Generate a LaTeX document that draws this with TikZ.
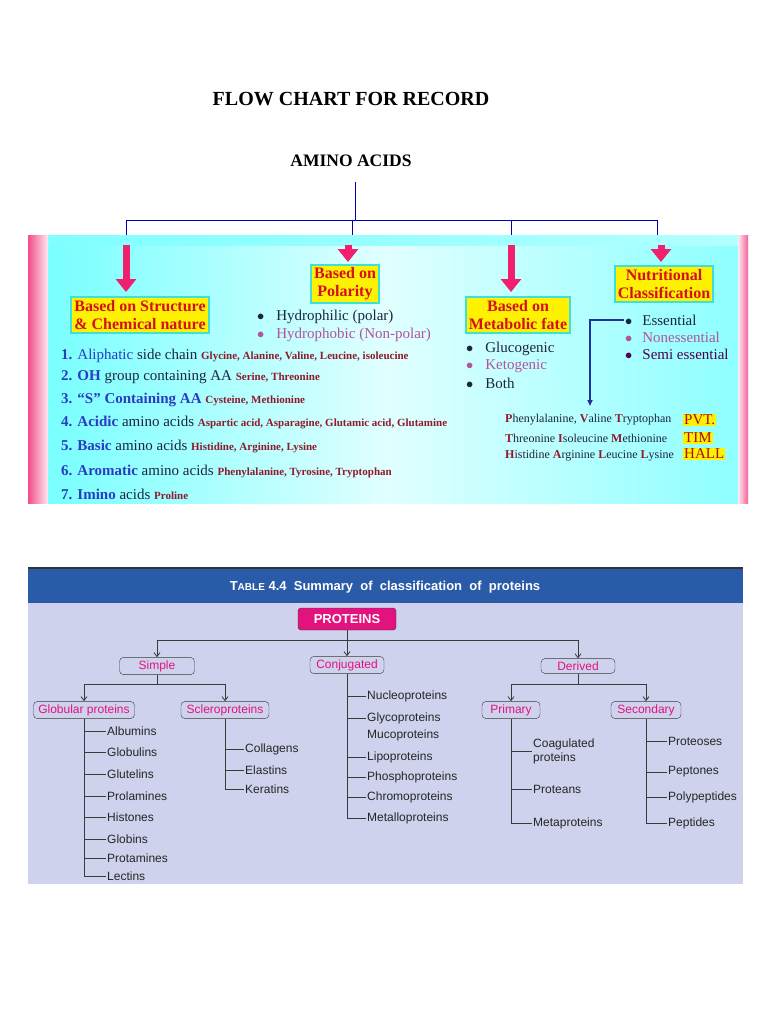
\documentclass[tikz,border=0pt]{standalone}
\usepackage{fontspec}
\setmainfont{Liberation Serif}
\setsansfont{Liberation Sans}
\usetikzlibrary{arrows.meta, positioning}
\definecolor{deeppink}{HTML}{F0206E}
\definecolor{boxcyan}{HTML}{3FE0D8}
\definecolor{boxyellow}{HTML}{FFF200}
\definecolor{boxred}{HTML}{D4101E}
\definecolor{numblue}{HTML}{2B3BC4}
\definecolor{namered}{HTML}{8E1B2C}
\definecolor{softpurple}{HTML}{B2539E}
\definecolor{inkdark}{HTML}{1C2540}
\definecolor{lavender}{HTML}{CED2EC}
\definecolor{barblue}{HTML}{2A5BA8}
\definecolor{protpink}{HTML}{E2137F}
\definecolor{treegray}{HTML}{3A3A3A}
\tikzset{
  pinkarrow/.style={draw=deeppink, line width=7pt, -{Triangle[length=13pt,width=20pt]}},
  yellowbox/.style={draw=boxcyan, line width=2pt, fill=boxyellow, text=boxred,
    font=\fontsize{16}{18}\selectfont\bfseries, align=center, inner sep=3pt},
  bluelink/.style={draw=blue!70!black, line width=0.6pt},
  classbox/.style={draw=treegray, rounded corners=4pt, fill=lavender, text=protpink,
    font=\sffamily\fontsize{12}{14}\selectfont, inner sep=3pt},
  treeline/.style={draw=treegray, line width=0.8pt},
  treearrow/.style={treeline, -{Straight Barb[length=4pt,width=6pt]}},
  leaf/.style={anchor=west, font=\sffamily\fontsize{12}{14}\selectfont, text=black!85, inner sep=1pt},
  listline/.style={anchor=west, font=\fontsize{15}{17}\selectfont, text=inkdark, inner sep=1pt},
}
\newcommand{\aaname}[1]{{\fontsize{11}{13}\selectfont\bfseries\color{namered}#1}}
\newcommand{\lead}[1]{{\bfseries\color{namered}#1}}
\begin{document}
\begin{tikzpicture}[x=1pt, y=-1pt]
  \useasboundingbox[fill=white] (0,0) rectangle (768,1024);

  % headings
  \node[font=\fontsize{20}{22}\selectfont\bfseries] (title) at (351,99) {FLOW CHART FOR RECORD};
  \node[font=\fontsize{17.5}{19}\selectfont\bfseries, inner sep=2pt] (amino) at (351,161) {AMINO ACIDS};

  % amino acid panel
  \fill[left color=cyan!55!white, right color=cyan!45!white, middle color=cyan!12!white] (28,235) rectangle (748,503);
  \fill[left color=cyan!50!white, right color=cyan!30!white] (48,235) rectangle (738,245);
  \fill[left color=deeppink!80!white, right color=deeppink!10!white] (28,235) rectangle (48,503);
  \fill[left color=deeppink!10!white, right color=deeppink!70!white] (738,235) rectangle (748,503);

  \coordinate (hub) at (355,220);
  \draw[bluelink] (hub |- 0,182) -- (hub);
  \draw[bluelink] (126,220) -- (657,220);
  \foreach \x in {126,352,511,657}
    \draw[bluelink] (\x,220) -- (\x,235);

  \node[yellowbox] (structure) at (140,315) {Based on Structure\\\& Chemical nature};
  \node[yellowbox] (polarity) at (345,284) {Based on\\Polarity};
  \node[yellowbox] (metabolic) at (518,315) {Based on\\Metabolic fate};
  \node[yellowbox] (nutrition) at (664,284) {Nutritional\\Classification};

  \draw[pinkarrow] (126,245) -- (126,292);
  \draw[pinkarrow] (348,245) -- (348,262);
  \draw[pinkarrow] (511,245) -- (511,292);
  \draw[pinkarrow] (661,245) -- (661,262);

  % polarity
  \node[listline] (hydrophilic) at (256,317) {$\bullet$\hspace{12pt}Hydrophilic (polar)};
  \node[listline, text=softpurple] (hydrophobic) at (256,335) {$\bullet$\hspace{12pt}Hydrophobic (Non-polar)};

  % structure list
  \node[listline] (l1) at (60,356) {\textcolor{numblue}{\bfseries 1.} \textcolor{numblue}{Aliphatic} side chain \aaname{Glycine, Alanine, Valine, Leucine, isoleucine}};
  \node[listline] (l2) at (60,377) {\textcolor{numblue}{\bfseries 2. OH} group containing AA \aaname{Serine, Threonine}};
  \node[listline] (l3) at (60,400) {\textcolor{numblue}{\bfseries 3. ``S'' Containing AA} \aaname{Cysteine, Methionine}};
  \node[listline] (l4) at (60,423) {\textcolor{numblue}{\bfseries 4. Acidic} amino acids \aaname{Aspartic acid, Asparagine, Glutamic acid, Glutamine}};
  \node[listline] (l5) at (60,447) {\textcolor{numblue}{\bfseries 5. Basic} amino acids \aaname{Histidine, Arginine, Lysine}};
  \node[listline] (l6) at (60,471) {\textcolor{numblue}{\bfseries 6. Aromatic} amino acids \aaname{Phenylalanine, Tyrosine, Tryptophan}};
  \node[listline] (l7) at (60,494) {\textcolor{numblue}{\bfseries 7. Imino} acids \aaname{Proline}};

  % metabolic fate
  \node[listline] (glucogenic) at (465,349) {$\bullet$\hspace{12pt}Glucogenic};
  \node[listline, text=softpurple] (ketogenic) at (465,366) {$\bullet$\hspace{12pt}Ketogenic};
  \node[listline] (both) at (465,383) {$\bullet$\hspace{12pt}Both};

  % nutritional
  \node[listline] (essential) at (624,320) {$\bullet$\hspace{10pt}Essential};
  \node[listline, text=softpurple] (nonessential) at (624,337) {$\bullet$\hspace{10pt}Nonessential};
  \node[listline, text=violet!60!black] (semi) at (624,354) {$\bullet$\hspace{10pt}Semi essential};

  \node[listline, font=\fontsize{12}{14}\selectfont] (pvt) at (504,420) {\lead{P}henylalanine, \lead{V}aline \lead{T}ryptophan};
  \node[listline, font=\fontsize{12}{14}\selectfont] (tim) at (504,438) {\lead{T}hreonine \lead{I}soleucine \lead{M}ethionine};
  \node[listline, font=\fontsize{12}{14}\selectfont] (hall) at (504,456) {\lead{H}istidine \lead{A}rginine \lead{L}eucine \lead{L}ysine};
  \foreach \word/\y in {PVT./420, TIM/438, HALL/454}
    \node[anchor=west, fill=boxyellow, text=boxred!80!black, inner sep=1pt, font=\fontsize{15}{16}\selectfont] at (683,\y) {\word};

  \coordinate (bend) at (590,320);
  \draw[draw=numblue!80!black, line width=1.5pt, -{Triangle[length=6pt,width=5pt]}] (essential.west) -- (bend) -- (bend |- 0,406);

  % protein panel
  \fill[lavender] (28,567) rectangle (743,884);
  \fill[barblue] (28,569) rectangle (743,603);
  \draw[black!80, line width=1.5pt] (28,568) -- (743,568);
  \node[text=white, font=\sffamily\bfseries\fontsize{13}{15}\selectfont] (tabletitle) at (385,587)
    {T{\fontsize{10}{12}\selectfont ABLE} 4.4\ \ Summary\ \ of\ \ classification\ \ of\ \ proteins};

  \node[draw=treegray, rounded corners=3pt, fill=protpink, text=white, font=\sffamily\bfseries\fontsize{13}{15}\selectfont,
    minimum width=98pt, minimum height=22pt] (proteins) at (347,619) {PROTEINS};

  \node[classbox, minimum width=75pt] (simple) at (157,666) {Simple};
  \node[classbox, minimum width=74pt] (conjugated) at (347,665) {Conjugated};
  \node[classbox, minimum width=74pt] (derived) at (578,666) {Derived};
  \draw[treeline] (proteins.south) -- (proteins.south |- 0,640);
  \draw[treeline] (simple.north |- 0,640) -- (derived.north |- 0,640);
  \foreach \n in {simple, conjugated, derived}
    \draw[treearrow] (\n.north |- 0,640) -- (\n.north);

  \node[classbox, minimum width=101pt] (globular) at (84,710) {Globular proteins};
  \node[classbox, minimum width=88pt] (sclero) at (225,710) {Scleroproteins};
  \draw[treeline] (simple.south) -- (simple.south |- 0,684);
  \draw[treeline] (globular.north |- 0,684) -- (sclero.north |- 0,684);
  \foreach \n in {globular, sclero}
    \draw[treearrow] (\n.north |- 0,684) -- (\n.north);

  \node[classbox, minimum width=58pt] (primary) at (511,710) {Primary};
  \node[classbox, minimum width=70pt] (secondary) at (646,710) {Secondary};
  \draw[treeline] (derived.south) -- (derived.south |- 0,684);
  \draw[treeline] (primary.north |- 0,684) -- (secondary.north |- 0,684);
  \foreach \n in {primary, secondary}
    \draw[treearrow] (\n.north |- 0,684) -- (\n.north);

  % leaves
  \foreach \name/\y [count=\i] in {Albumins/731, Globulins/752, Glutelins/774, Prolamines/796,
      Histones/817, Globins/839, Protamines/858, Lectins/876} {
    \node[leaf] (glob\i) at (106,\y) {\name};
    \draw[treeline] (globular.south |- glob\i.west) -- (glob\i.west);
  }
  \draw[treeline] (globular.south) -- (globular.south |- glob8.west);

  \foreach \name/\y [count=\i] in {Collagens/749, Elastins/770, Keratins/789} {
    \node[leaf] (scl\i) at (244,\y) {\name};
    \draw[treeline] (sclero.south |- scl\i.west) -- (scl\i.west);
  }
  \draw[treeline] (sclero.south) -- (sclero.south |- scl3.west);

  \foreach \name/\y [count=\i] in {Nucleoproteins/696, Glycoproteins/718, Lipoproteins/757,
      Phosphoproteins/777, Chromoproteins/797, Metalloproteins/818} {
    \node[leaf] (conj\i) at (366,\y) {\name};
    \draw[treeline] (conjugated.south |- conj\i.west) -- (conj\i.west);
  }
  \node[leaf] (muco) at (366,735) {Mucoproteins};
  \draw[treeline] (conjugated.south) -- (conjugated.south |- conj6.west);

  \node[leaf, align=left] (coag) at (532,751) {Coagulated\\proteins};
  \node[leaf] (proteans) at (532,789) {Proteans};
  \node[leaf] (meta) at (532,823) {Metaproteins};
  \foreach \n in {coag, proteans, meta}
    \draw[treeline] (primary.south |- \n.west) -- (\n.west);
  \draw[treeline] (primary.south) -- (primary.south |- meta.west);

  \foreach \name/\y [count=\i] in {Proteoses/741, Peptones/772, Polypeptides/797, Peptides/823} {
    \node[leaf] (sec\i) at (667,\y) {\name};
    \draw[treeline] (secondary.south |- sec\i.west) -- (sec\i.west);
  }
  \draw[treeline] (secondary.south) -- (secondary.south |- sec4.west);
\end{tikzpicture}
\end{document}
